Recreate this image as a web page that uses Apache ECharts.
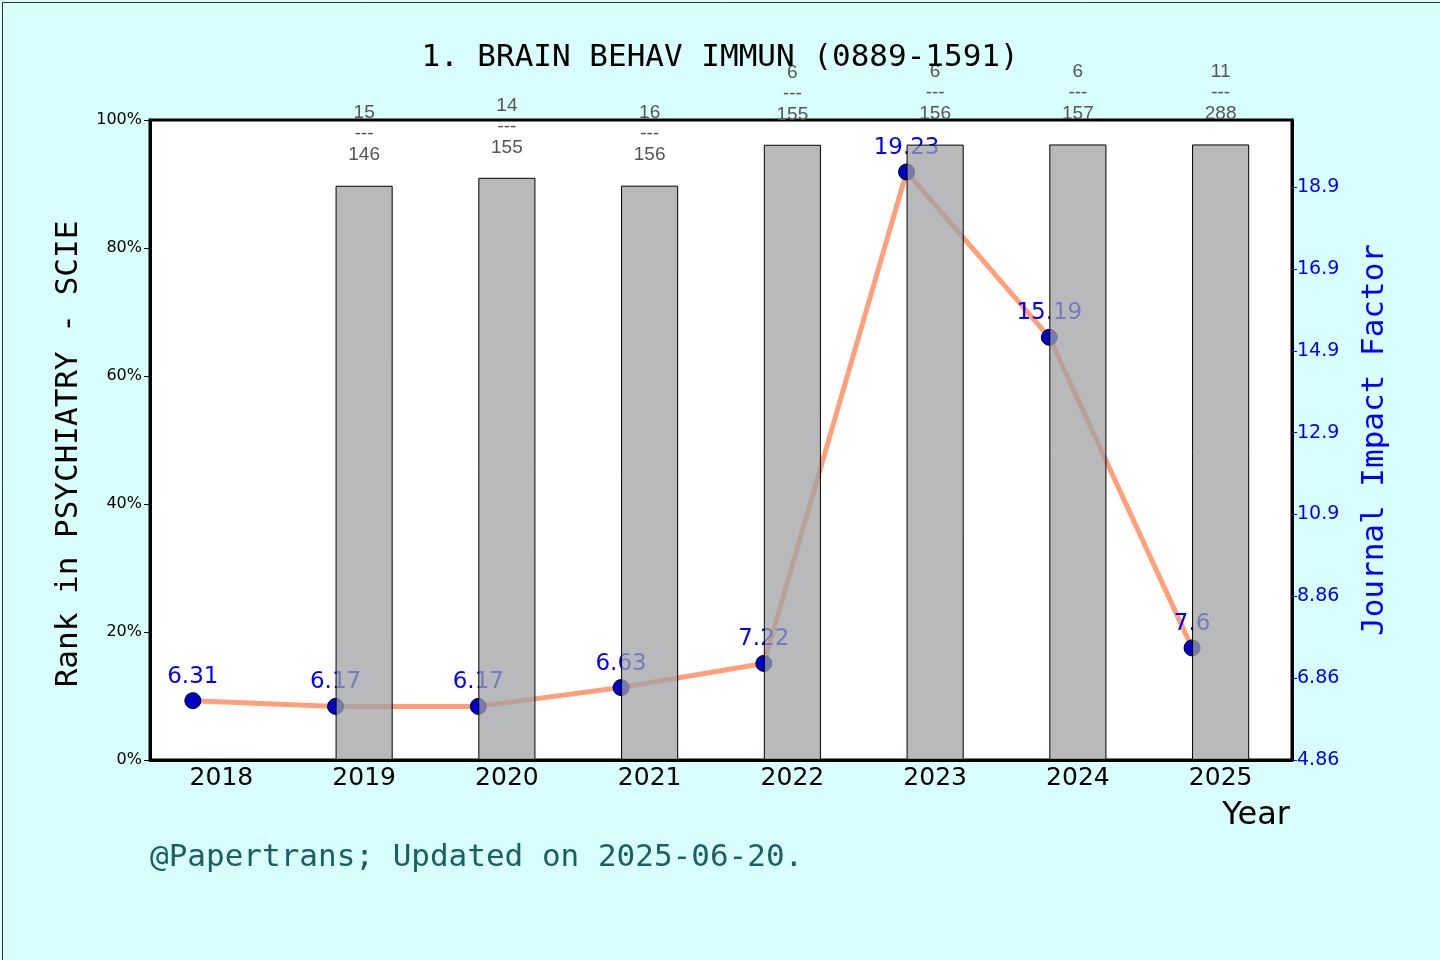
<!DOCTYPE html>
<html>
<head>
<meta charset="utf-8">
<title>BRAIN BEHAV IMMUN</title>
<script src="https://cdn.jsdelivr.net/npm/echarts@6/dist/echarts.min.js"></script>
<style>
  html, body { margin: 0; padding: 0; background: #d8fefe; }
  #chart { width: 1440px; height: 960px; }
</style>
</head>
<body>
<div id="chart"></div>
<script>
// data
const years = ["2018", "2019", "2020", "2021", "2022", "2023", "2024", "2025"];
const rankPos = [null, 15, 14, 16, 6, 6, 6, 11];
const rankTotal = [null, 146, 155, 156, 155, 156, 157, 288];
const jif = [6.31, 6.17, 6.17, 6.63, 7.22, 19.23, 15.19, 7.6];
const jifTicks = [4.86, 6.86, 8.86, 10.86, 12.86, 14.86, 16.86, 18.86];

// bar height = share of journals ranked below
const barData = rankPos.map((p, i) => (p == null ? null : (1 - p / rankTotal[i]) * 100));
const lineData = jif.map((v, i) => [i, v]);

const mono = "'DejaVu Sans Mono', monospace";
const sans = "'DejaVu Sans', sans-serif";

const chart = echarts.init(document.getElementById("chart"));
const option = {
  backgroundColor: "#d8fefe",
  animation: false,
  title: {
    text: "1. BRAIN BEHAV IMMUN (0889-1591)",
    left: "center",
    top: 37,
    textStyle: { fontFamily: mono, fontSize: 31, fontWeight: "normal", color: "#000" },
  },
  grid: {
    left: 150,
    right: 148,
    top: 120,
    bottom: 200,
    show: true,
    backgroundColor: "#fff",
    borderColor: "#000",
    borderWidth: 3,
  },
  xAxis: [
    {
      type: "category",
      data: years,
      boundaryGap: true,
      axisLine: { lineStyle: { color: "#000", width: 3 } },
      axisTick: { inside: true, length: 6, lineStyle: { color: "#000", width: 1 } },
      axisLabel: { fontFamily: sans, fontSize: 25, color: "#000", margin: 6 },
      name: "Year",
      nameLocation: "end",
      nameGap: -2,
      nameTextStyle: {
        fontFamily: sans, fontSize: 32, color: "#000",
        align: "right", verticalAlign: "top", padding: [40, 0, 0, 0],
      },
    },
    {
      // hidden axis for the line: points sit on the left edge of each bar
      type: "value",
      min: -0.3,
      max: 7.7,
      show: false,
    },
  ],
  yAxis: [
    {
      type: "value",
      min: 0,
      max: 100,
      interval: 20,
      position: "left",
      splitLine: { show: false },
      axisLine: { show: true, onZero: false, lineStyle: { color: "#000", width: 3 } },
      axisTick: { show: true, length: 6, lineStyle: { color: "#000" } },
      axisLabel: { formatter: "{value}%", fontFamily: sans, fontSize: 16, color: "#000", margin: 8 },
      name: "Rank in PSYCHIATRY - SCIE",
      nameLocation: "middle",
      nameRotate: 90,
      nameGap: 66,
      nameTextStyle: { fontFamily: mono, fontSize: 31, color: "#000", padding: [0, 28, 0, 0] },
    },
    {
      type: "value",
      min: 4.86,
      max: 20.5,
      position: "right",
      splitLine: { show: false },
      axisLine: { show: true, onZero: false, lineStyle: { color: "#000", width: 3 } },
      axisTick: { show: true, length: 5, customValues: jifTicks, lineStyle: { color: "#0000ff" } },
      axisLabel: {
        customValues: jifTicks,
        formatter: (v) => String(+Number(v).toPrecision(3)),
        fontFamily: sans, fontSize: 19, color: "#0000ff", margin: 5,
      },
      name: "Journal Impact Factor",
      nameLocation: "middle",
      nameRotate: 90,
      nameGap: 67,
      nameTextStyle: { fontFamily: mono, fontSize: 31, color: "#0000ff", padding: [0, 0, 22, 0] },
    },
  ],
  series: [
    {
      name: "IF",
      type: "line",
      xAxisIndex: 1,
      yAxisIndex: 1,
      z: 2,
      data: lineData,
      symbol: "circle",
      symbolSize: 16,
      lineStyle: { color: "#ffa07a", width: 5 },
      itemStyle: { color: "#0000c8", borderColor: "#000", borderWidth: 1 },
      label: {
        show: true,
        position: "top",
        distance: 4,
        formatter: (p) => p.value[1],
        fontFamily: sans,
        fontSize: 23,
        color: "#0000ff",
      },
    },
    {
      name: "Rank",
      type: "bar",
      xAxisIndex: 0,
      yAxisIndex: 0,
      z: 3,
      barWidth: "40%",
      data: barData,
      itemStyle: { color: "rgba(160,161,164,0.75)", borderColor: "#000", borderWidth: 1 },
      label: {
        show: true,
        position: "top",
        distance: 20,
        formatter: (p) => rankPos[p.dataIndex] + "\n---\n" + rankTotal[p.dataIndex],
        fontFamily: "'Liberation Sans', sans-serif",
        fontSize: 19,
        lineHeight: 21,
        color: "#555",
      },
    },
  ],
  graphic: [
    {
      type: "text",
      left: 150,
      top: 842,
      style: {
        text: "@Papertrans; Updated on 2025-06-20.",
        font: "31px 'DejaVu Sans Mono', monospace",
        fill: "#1a6060",
      },
    },
    {
      type: "rect",
      left: 0,
      top: 0,
      shape: { width: 1439, height: 959 },
      style: { fill: "none", stroke: "#333", lineWidth: 1 },
      silent: true,
    },
  ],
};
chart.setOption(option);
</script>
</body>
</html>
